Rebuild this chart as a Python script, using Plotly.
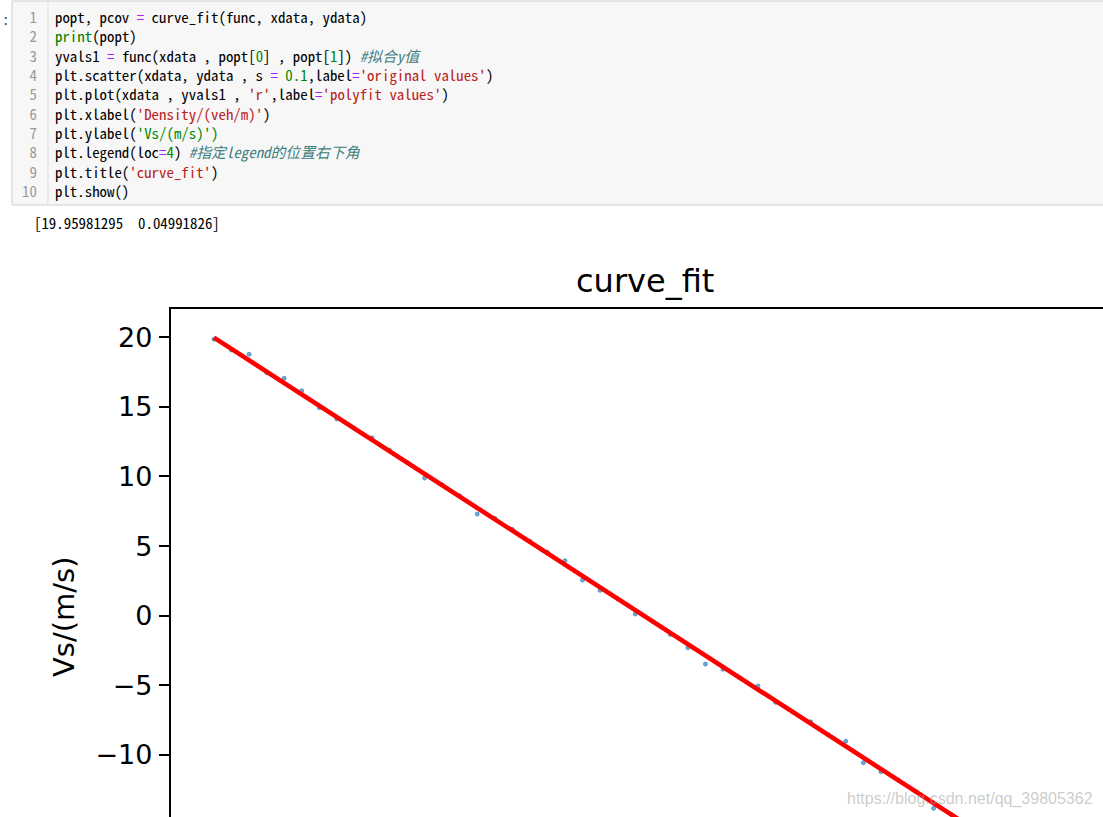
import plotly.graph_objects as go

# ---------------- data ----------------
xdata = [0.00, 16.33, 32.65, 48.98, 65.31, 81.63, 97.96, 114.29, 130.61, 146.94,
         163.27, 179.59, 195.92, 212.24, 228.57, 244.90, 261.22, 277.55, 293.88, 310.20,
         326.53, 342.86, 359.18, 375.51, 391.84, 408.16, 424.49, 440.82, 457.14, 473.47,
         489.80, 506.12, 522.45, 538.78, 555.10, 571.43, 587.76, 604.08, 620.41, 636.73,
         653.06, 669.39, 685.71]
ydata = [19.85, 19.08, 18.77, 17.45, 17.04, 16.15, 14.93, 14.12, 13.44, 12.78,
         11.90, 11.00, 9.88, 9.40, 8.61, 7.30, 7.00, 6.20, 5.35, 4.55,
         3.95, 2.56, 1.82, 1.22, 0.12, -0.41, -1.35, -2.30, -3.47, -3.85,
         -4.48, -5.05, -6.22, -6.93, -7.61, -8.55, -9.02, -10.55, -11.20, -11.81,
         -12.63, -13.83, -14.26]
fit_x = [0.0, 800.0]
fit_y = [19.96, -19.97]
y_ticks = [-15, -10, -5, 0, 5, 10, 15, 20]

# code cell text: tokens (text, kind)
code_lines = [
    [("popt, pcov ", "n"), ("=", "o"), (" curve_fit(func, xdata, ydata)", "n")],
    [("print", "k"), ("(popt)", "n")],
    [("yvals1 ", "n"), ("=", "o"), (" func(xdata , popt[", "n"), ("0", "d"), ("] , popt[", "n"),
     ("1", "d"), ("]) ", "n"), ("#拟合y值", "c")],
    [("plt.scatter(xdata, ydata , s ", "n"), ("=", "o"), (" ", "n"), ("0.1", "d"), (",label", "n"),
     ("=", "o"), ("'original values'", "s"), (")", "n")],
    [("plt.plot(xdata , yvals1 , ", "n"), ("'r'", "s"), (",label", "n"), ("=", "o"),
     ("'polyfit values'", "s"), (")", "n")],
    [("plt.xlabel(", "n"), ("'Density/(veh/m)'", "s"), (")", "n")],
    [("plt.ylabel(", "n"), ("'Vs/(m/s)')", "d")],
    [("plt.legend(loc", "n"), ("=", "o"), ("4", "d"), (") ", "n"), ("#指定legend的位置右下角", "c")],
    [("plt.title(", "n"), ("'curve_fit'", "s"), (")", "n")],
    [("plt.show()", "n")],
]
output_text = "[19.95981295  0.04991826]"
title_text = "curve_fit"
ylabel_text = "Vs/(m/s)"
watermark = "https://blog.csdn.net/qq_39805362"

# ---------------- layout helpers ----------------
FW, FH = 1103, 817
L, T = 171, 309
W, H = FW - L, FH - T


def px(x):
    return (x - L) / W


def py(y):
    return 1 - (y - T) / H


colors = {"n": "#000000", "k": "#008000", "o": "#aa22ff", "d": "#008800",
          "s": "#ba2121", "c": "#408080"}
MONO = "Noto Sans Mono CJK SC, Liberation Mono, monospace"
CODE_SIZE = 14.86


def fmt(tokens):
    out = []
    for text, kind in tokens:
        t = text.replace(" ", "\u00a0")
        s = f'<span style="color:{colors[kind]}">{t}</span>'
        if kind == "c":
            s = f"<i>{s}</i>"
        out.append(s)
    return "".join(out)


fig = go.Figure()
fig.add_trace(go.Scatter(
    x=xdata, y=ydata, mode="markers", name="original values",
    marker=dict(size=4, color="#6fa8dc", line=dict(color="#1f77b4", width=0.6))))
fig.add_trace(go.Scatter(
    x=fit_x, y=fit_y, mode="lines", name="polyfit values",
    line=dict(color="red", width=4.6)))

shapes = [
    dict(type="rect", xref="paper", yref="paper", x0=px(12), x1=px(1110), y0=py(1), y1=py(205),
         fillcolor="#f7f7f7", line=dict(color="#cfcfcf", width=1), layer="below"),
    dict(type="line", xref="paper", yref="paper", x0=px(48), x1=px(48), y0=py(1), y1=py(205),
         line=dict(color="#dddddd", width=1)),
]

block_mid = (18 + 18 + 19 * (len(code_lines) - 1)) / 2
annotations = [
    dict(xref="paper", yref="paper", x=px(38), y=py(block_mid), xanchor="right", yanchor="middle",
         text="<br>".join(str(i + 1) for i in range(len(code_lines))), showarrow=False,
         align="right", borderpad=0, font=dict(family=MONO, size=CODE_SIZE, color="#999999")),
    dict(xref="paper", yref="paper", x=px(54), y=py(block_mid), xanchor="left", yanchor="middle",
         text="<br>".join(fmt(t) for t in code_lines), showarrow=False, align="left",
         borderpad=0, font=dict(family=MONO, size=CODE_SIZE, color="#000000")),
    dict(xref="paper", yref="paper", x=px(0), y=py(18), xanchor="left", yanchor="middle",
         text=":", showarrow=False, font=dict(family=MONO, size=CODE_SIZE, color="#303f9f")),
    dict(xref="paper", yref="paper", x=px(32), y=py(222), xanchor="left", yanchor="middle",
         text=output_text.replace(" ", "\u00a0"), showarrow=False,
         font=dict(family=MONO, size=CODE_SIZE, color="#000000")),
    dict(xref="paper", yref="paper", x=px(644.5), y=py(281), xanchor="center", yanchor="middle",
         text=title_text, showarrow=False,
         font=dict(family="DejaVu Sans", size=32, color="#000000")),
    dict(xref="paper", yref="paper", x=px(64), y=py(617), xanchor="center", yanchor="middle",
         text=ylabel_text, textangle=-90, showarrow=False,
         font=dict(family="DejaVu Sans", size=29, color="#000000")),
    dict(xref="paper", yref="paper", x=px(1095), y=py(799), xanchor="right", yanchor="middle",
         text=watermark, showarrow=False,
         font=dict(family="Liberation Sans", size=16, color="rgba(160,160,160,0.55)")),
]

fig.update_layout(
    width=FW, height=FH,
    margin=dict(l=L, r=0, t=T, b=0, autoexpand=False),
    paper_bgcolor="white", plot_bgcolor="white",
    showlegend=False,
    shapes=shapes, annotations=annotations,
    xaxis=dict(range=[-40, 827], side="top", showline=True, linecolor="black", linewidth=2.3,
               ticks="", showticklabels=False, showgrid=False, zeroline=False),
    yaxis=dict(range=[-14.45, 22.02], showline=True, linecolor="black", linewidth=2.3,
               ticks="outside", ticklen=10, tickwidth=2.2, tickcolor="black",
               tickvals=y_ticks, showgrid=False, zeroline=False, ticklabelstandoff=1,
               tickfont=dict(family="DejaVu Sans", size=27, color="black")),
)

fig.write_html("out.html", config={"displayModeBar": False},
               post_script="document.body.style.margin='0';document.body.style.overflow='hidden';")
